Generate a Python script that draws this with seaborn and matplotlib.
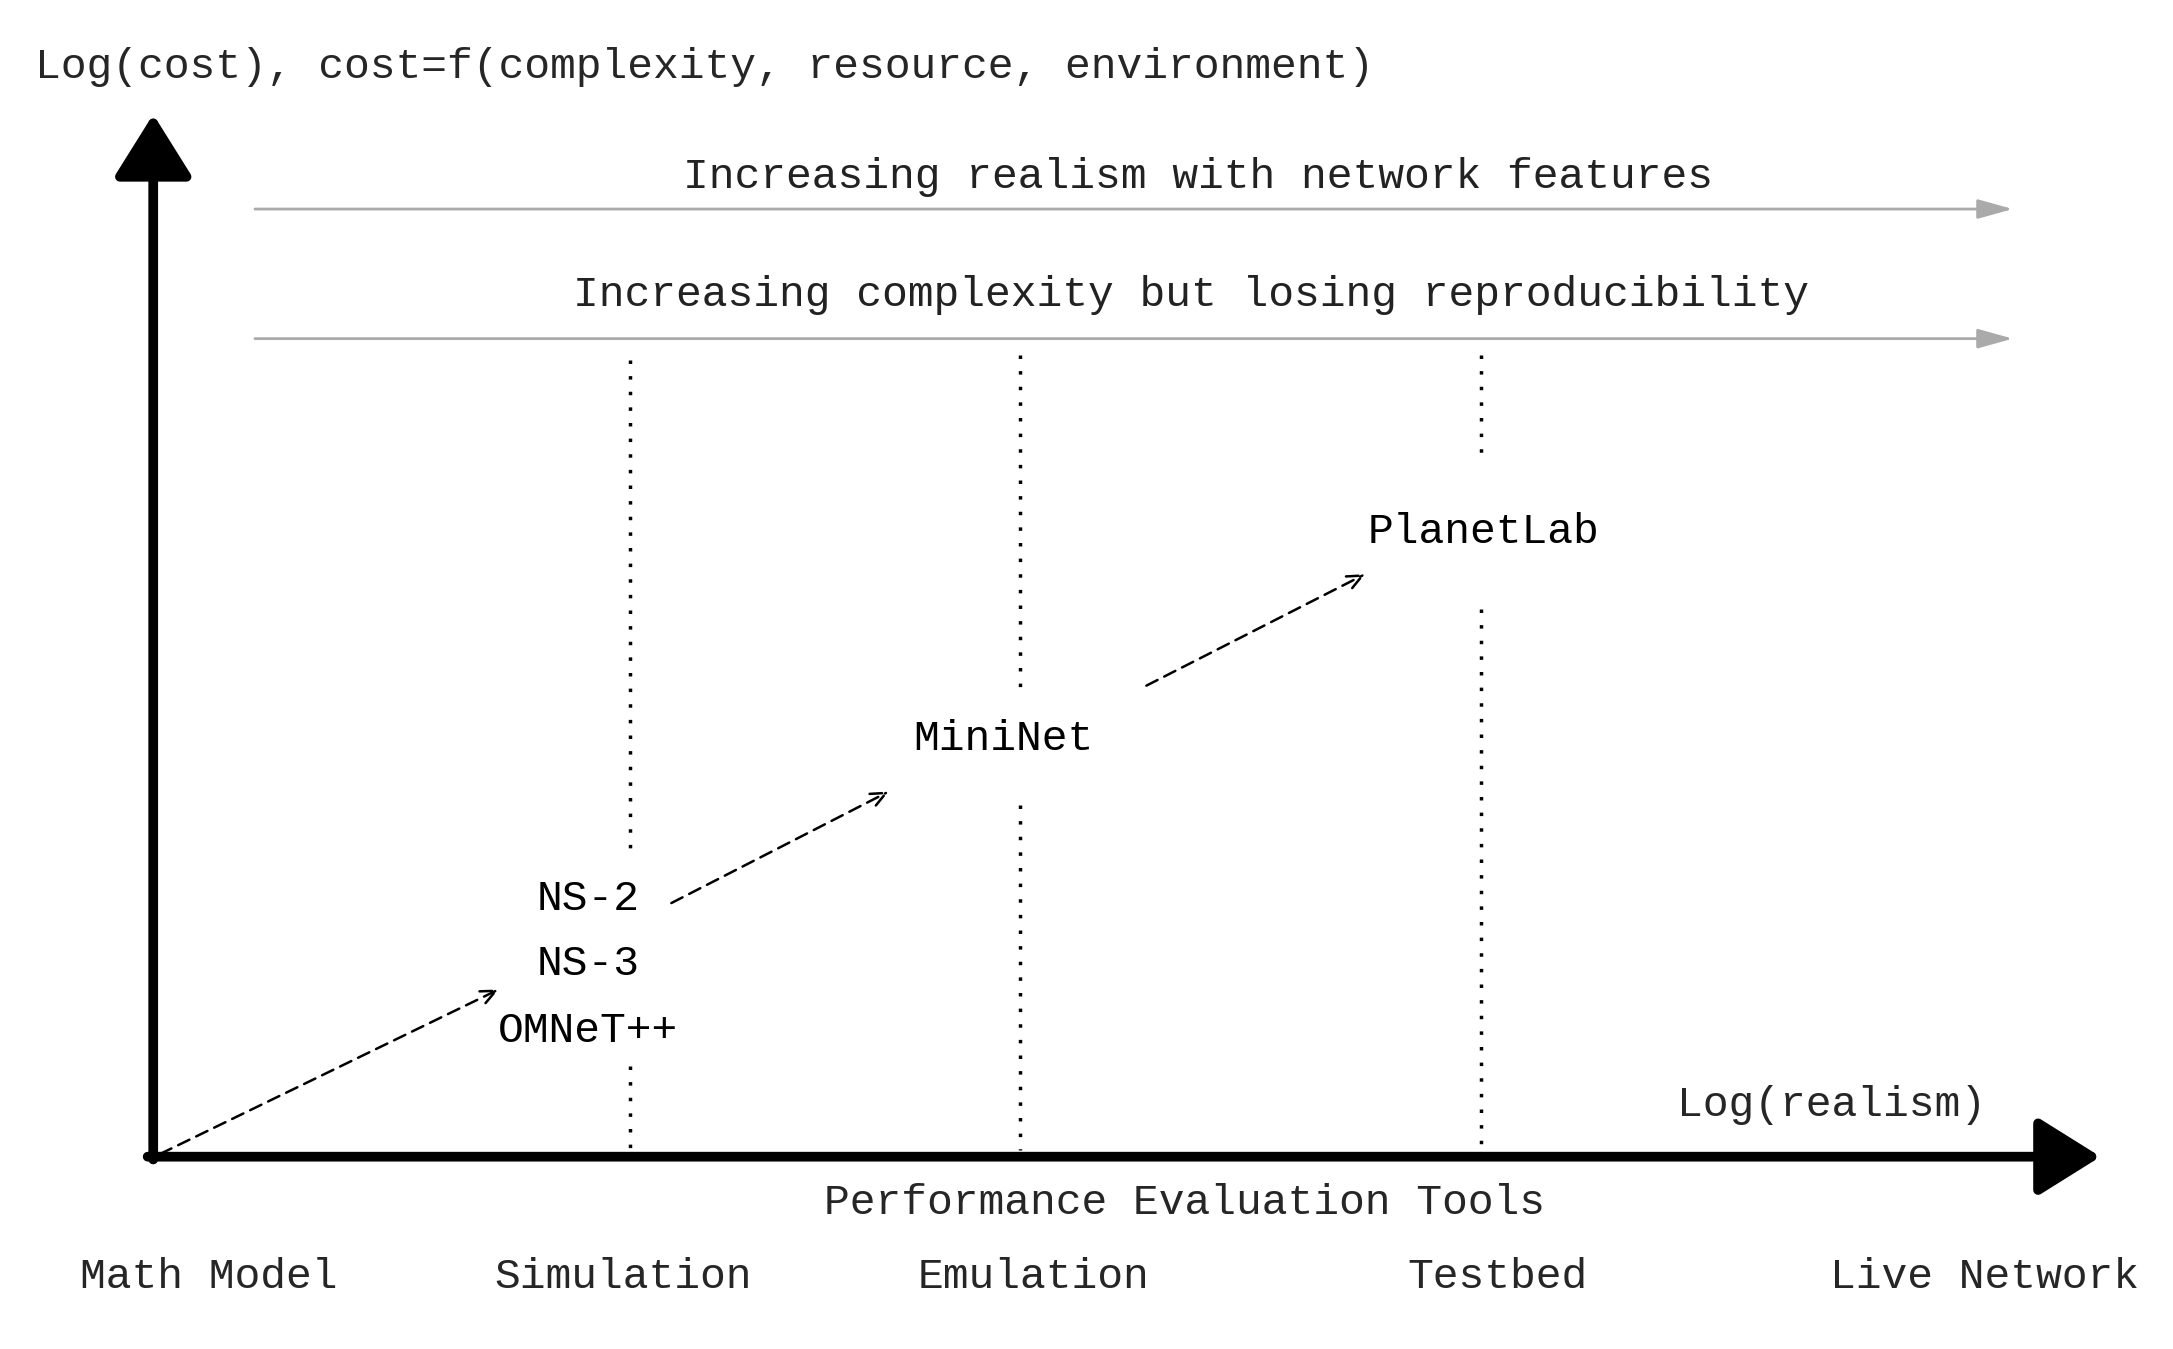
import matplotlib
matplotlib.use("Agg")
import matplotlib.pyplot as plt
import seaborn as sns
import pandas as pd

# Layout units follow a 1560 x 968 canvas (y grows downward)
stages = ["Math Model", "Simulation", "Emulation", "Testbed", "Live Network"]
stage_x = [150, 447, 742, 1075, 1425]

tools = ["NS-2", "NS-3", "OMNeT++", "MiniNet", "PlanetLab"]
tool_x = [422, 422, 422, 720, 1065]
tool_y = [645, 692, 740, 530, 382]

# dotted separators: x, y start, y end
sep_x = [452, 452, 732, 732, 1063, 1063]
sep_y0 = [258, 765, 255, 578, 255, 437]
sep_y1 = [610, 825, 495, 825, 325, 825]

# dashed progression arrows
path_from = [(115, 828), (482, 648), (823, 492)]
path_to = [(358, 710), (638, 568), (980, 412)]

trends = ["Increasing realism with network features",
          "Increasing complexity but losing reproducibility"]
trend_y = [150, 243]
trend_text_y = [127, 212]
trend_text_x = [860, 855]

sns.set_theme(style="white")
plt.rcParams['font.family'] = ['Liberation Mono', 'DejaVu Sans Mono']

fig = plt.figure(figsize=(21.73, 13.49), dpi=100)
ax = fig.add_axes([0, 0, 1, 1])
ax.set_xlim(0, 1560)
ax.set_ylim(968, 0)
ax.axis("off")

fs = 31

# dotted separators via seaborn
for x, a, b in zip(sep_x, sep_y0, sep_y1):
    seg = pd.DataFrame({"x": [x, x], "y": [a, b]})
    sns.lineplot(data=seg, x="x", y="y", ax=ax, color="black", lw=2.5,
                 linestyle=(0, (1, 3.5)), sort=False, estimator=None)

# main axes
ax.annotate("", xy=(110, 82), xytext=(110, 832),
            arrowprops=dict(arrowstyle="-|>,head_width=2.0,head_length=3.2",
                            lw=7, color="black", shrinkA=0, shrinkB=0))
ax.annotate("", xy=(1508, 830), xytext=(106, 830),
            arrowprops=dict(arrowstyle="-|>,head_width=2.0,head_length=3.2",
                            lw=7, color="black", shrinkA=0, shrinkB=0))

# grey trend arrows
for ty, tt, tx, txt in zip(trend_y, trend_text_y, trend_text_x, trends):
    ax.annotate("", xy=(1445, ty), xytext=(183, ty),
                arrowprops=dict(arrowstyle="-|>,head_width=0.5,head_length=1.8",
                                lw=2, color="#aaaaaa", shrinkA=0, shrinkB=0))
    ax.text(tx, tt, txt, ha="center", va="center", fontsize=fs, color="#222222")

# dashed progression arrows
for p0, p1 in zip(path_from, path_to):
    ax.annotate("", xy=p1, xytext=p0,
                arrowprops=dict(arrowstyle="->,head_width=0.4,head_length=0.9",
                                lw=1.8, linestyle=(0, (5, 3)), color="black",
                                shrinkA=0, shrinkB=0))

for name, x, y in zip(tools, tool_x, tool_y):
    ax.text(x, y, name, ha="center", va="center", fontsize=fs, color="black",
            bbox=dict(facecolor="white", edgecolor="none", pad=2))

ax.text(25, 48, "Log(cost), cost=f(complexity, resource, environment)",
        ha="left", va="center", fontsize=fs)
ax.text(1315, 793, "Log(realism)", ha="center", va="center", fontsize=fs)
ax.text(850, 863, "Performance Evaluation Tools", ha="center", va="center", fontsize=fs)
for name, x in zip(stages, stage_x):
    ax.text(x, 916, name, ha="center", va="center", fontsize=fs)

fig.savefig("out.png", dpi=100, facecolor="white")
